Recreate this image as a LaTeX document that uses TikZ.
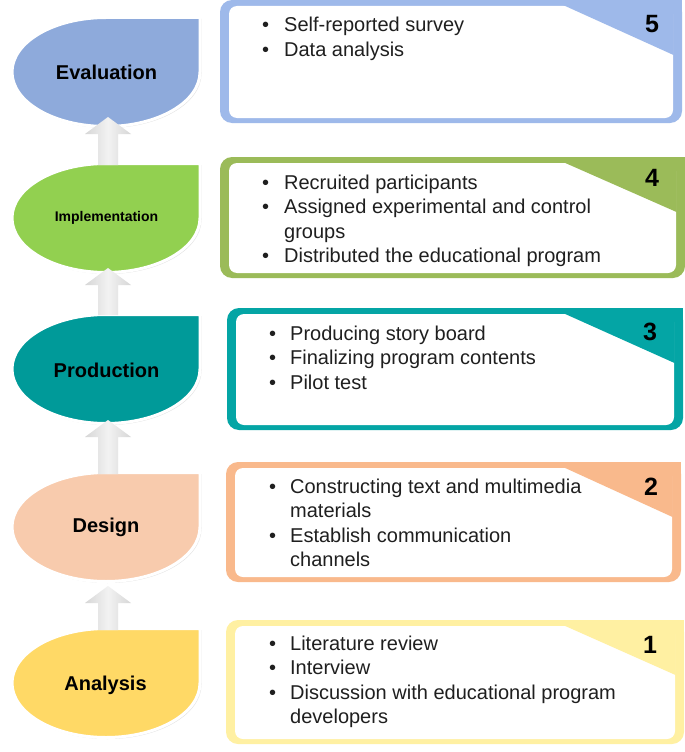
\documentclass[tikz,border=0pt]{standalone}
\usepackage{fontspec}
\setmainfont{Liberation Sans}
\usetikzlibrary{shadows}
\definecolor{leafA}{HTML}{8EAADB}
\definecolor{boxA}{HTML}{9EB9EA}
\definecolor{leafB}{HTML}{92D050}
\definecolor{boxB}{HTML}{9BBB59}
\definecolor{leafC}{HTML}{009A99}
\definecolor{boxC}{HTML}{04A5A5}
\definecolor{leafD}{HTML}{F8CBAD}
\definecolor{boxD}{HTML}{F9B98C}
\definecolor{leafE}{HTML}{FFD966}
\definecolor{boxE}{HTML}{FFF0A2}
\definecolor{txt}{HTML}{1F1F1F}
% #1 colour, #2 left, #3 top, #4 right, #5 bottom
\newcommand\stagebox[5]{%
  \fill[#1, rounded corners=12pt] (#2,#3) rectangle (#4,#5);
  \fill[#1] (#4-20,#3) rectangle (#4,#3+20);
  \fill[white, rounded corners=8pt] (#2+9,#3+6) rectangle (#4-9,#5-5);
  \fill[#1] (563,#3+5) -- (#4-8.5,#3+5) -- (#4-8.5,#3+55) -- cycle;
}
% #1 centre y, #2 colour
\newcommand\leafshape[2]{%
  \path[fill=#2, draw=white, line width=3pt,
        drop shadow={opacity=0.22, shadow xshift=1.5pt, shadow yshift=-1.5pt}]
    (200,#1-54.5) -- (200,#1)
    .. controls (200,#1+30.1) and (158,#1+54.5) .. (106,#1+54.5)
    .. controls (54,#1+54.5) and (12,#1+30.1) .. (12,#1)
    .. controls (12,#1-30.1) and (54,#1-54.5) .. (106,#1-54.5) -- cycle;
}
% #1 name, #2 tip y, #3 base y
\newcommand\stagearrow[3]{%
  \coordinate (#1tip) at (108,#2);
  \coordinate (#1base) at (108,#3);
  \shade[left color=black!16, right color=black!16, middle color=black!5]
    (#1tip) -- ++(23,17) -- ++(-13,0) -- ++(0,#3-#2-17) -- ++(-20,0)
    -- ++(0,#2-#3+17) -- ++(-13,0) -- cycle;
}
\begin{document}
\begin{tikzpicture}[x=1pt,y=-1pt,
  leaftext/.style={font=\fontsize{20}{24}\selectfont\bfseries, text=black, inner sep=0pt},
  smallleaf/.style={font=\fontsize{14}{16}\selectfont\bfseries, text=black, inner sep=0pt},
  itemtext/.style={font=\fontsize{20}{24.5}\selectfont, text=txt, inner sep=0pt, anchor=base west},
  num/.style={font=\fontsize{25}{25}\selectfont\bfseries, text=black, inner sep=0pt}]
\useasboundingbox[fill=white] (0,0) rectangle (685,752);

% boxes
\stagebox{boxA}{220}{0}{682}{123}
\stagebox{boxB}{220}{157}{685}{278}
\stagebox{boxC}{227}{308}{683}{430}
\stagebox{boxD}{226}{462}{681}{582}
\stagebox{boxE}{226}{620}{684}{744}

\node[num] (n5) at (652,24) {5};
\node[num] (n4) at (652,178) {4};
\node[num] (n3) at (650,332) {3};
\node[num] (n2) at (651,487) {2};
\node[num] (n1) at (650,645) {1};

\node[itemtext] (t5) at (262,32) {\begin{tabular}[t]{@{}p{22pt}@{}l@{}}
\textbullet & Self-reported survey\\
\textbullet & Data analysis\end{tabular}};
\node[itemtext] (t4) at (262,189) {\begin{tabular}[t]{@{}p{22pt}@{}l@{}}
\textbullet & Recruited participants\\
\textbullet & Assigned experimental and control\\
 & groups\\
\textbullet & Distributed the educational program\end{tabular}};
\node[itemtext] (t3) at (269,340) {\begin{tabular}[t]{@{}p{21pt}@{}l@{}}
\textbullet & Producing story board\\
\textbullet & Finalizing program contents\\
\textbullet & Pilot test\end{tabular}};
\node[itemtext] (t2) at (269,493) {\begin{tabular}[t]{@{}p{21pt}@{}l@{}}
\textbullet & Constructing text and multimedia\\
 & materials\\
\textbullet & Establish communication\\
 & channels\end{tabular}};
\node[itemtext] (t1) at (269,650) {\begin{tabular}[t]{@{}p{21pt}@{}l@{}}
\textbullet & Literature review\\
\textbullet & Interview\\
\textbullet & Discussion with educational program\\
 & developers\end{tabular}};

% leaves
\leafshape{72}{leafA}
\leafshape{218}{leafB}
\leafshape{369}{leafC}
\leafshape{527}{leafD}
\leafshape{683}{leafE}

\node[leaftext] (evaluation) at (106.5,72) {Evaluation};
\node[smallleaf] (implementation) at (106.5,218) {Implementation};
\node[leaftext] (production) at (106.5,370) {Production};
\node[leaftext] (design) at (106,527) {Design};
\node[leaftext] (analysis) at (105.5,685) {Analysis};

% arrows
\stagearrow{aE}{117}{165}
\stagearrow{aD}{268}{315}
\stagearrow{aC}{420}{474}
\stagearrow{aB}{586}{630}
\end{tikzpicture}
\end{document}
